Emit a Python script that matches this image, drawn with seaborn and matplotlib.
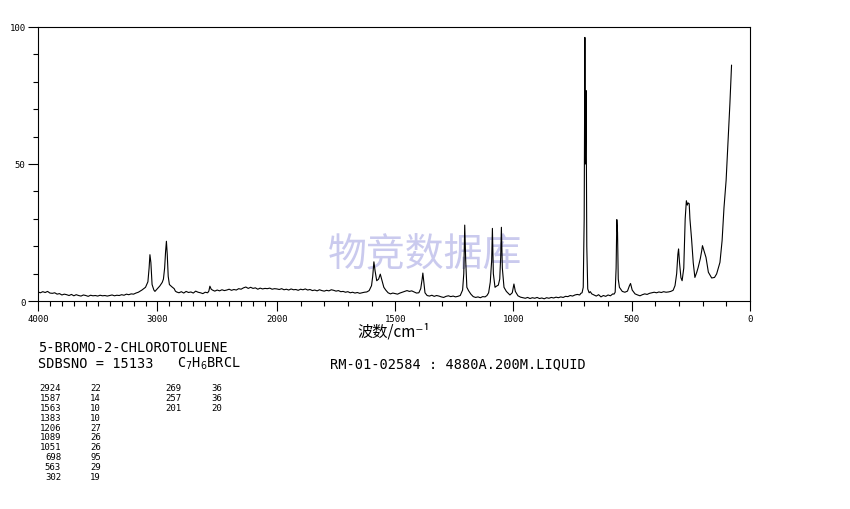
import numpy as np
import pandas as pd
import matplotlib
matplotlib.use("Agg")
import matplotlib.pyplot as plt
import seaborn as sns

# ---------------- data ----------------
wavenumber = [
    4000, 3980, 3960, 3940, 3920, 3900, 3880, 3860, 3840, 3820, 3800, 3780,
    3760, 3740, 3720, 3700, 3680, 3660, 3640, 3620, 3600, 3580, 3560, 3540,
    3520, 3500, 3480, 3460, 3440, 3420, 3400, 3380, 3360, 3340, 3320, 3300,
    3280, 3260, 3240, 3220, 3200, 3180, 3160, 3130, 3100,
    3080, 3070, 3063, 3055, 3045, 3030, 3021, 3000, 2980, 2960, 2950, 2940,
    2932, 2925, 2918, 2910, 2900, 2880, 2860, 2850, 2840, 2820, 2800, 2780,
    2760, 2740, 2720, 2700, 2680, 2660, 2640, 2620, 2600, 2580, 2570, 2561,
    2550, 2540, 2520, 2500, 2480, 2460, 2440, 2420, 2400, 2380, 2360, 2340,
    2320, 2300, 2280, 2260, 2240, 2220, 2200, 2180, 2160, 2140, 2120, 2100,
    2080, 2060, 2040, 2020, 2000,
    1990, 1980, 1970, 1960, 1950, 1940, 1930, 1920, 1910, 1900, 1890, 1880,
    1870, 1860, 1850, 1840, 1830, 1820, 1810, 1800, 1790, 1780, 1770, 1760,
    1750, 1740, 1730, 1720, 1710, 1700, 1690, 1680, 1670, 1660, 1650, 1640,
    1630, 1620, 1610, 1600,
    1595, 1590, 1585, 1578, 1570, 1563, 1556, 1548, 1540, 1530, 1520, 1510,
    1500, 1490, 1480, 1470, 1460, 1450, 1440, 1430, 1420, 1410, 1400, 1392,
    1386, 1383, 1379, 1374, 1365, 1355, 1345, 1335, 1325, 1315, 1305, 1295,
    1285, 1275, 1265, 1255, 1245, 1235, 1225, 1215, 1210, 1206, 1202, 1197,
    1190, 1180, 1170, 1160, 1150, 1140, 1130, 1120, 1112, 1105, 1098, 1092,
    1089, 1085, 1078, 1072, 1064, 1058, 1054, 1051, 1047, 1040, 1030, 1015,
    1005, 998, 992, 981, 970, 960, 950, 940, 930, 920, 910, 900,
    890, 880, 870, 860, 850, 840, 830, 820, 810, 800, 790, 780,
    770, 760, 750, 740, 730, 720, 715, 710, 705, 701, 698, 696,
    693, 690, 686, 680, 675, 669, 660, 650, 640, 630, 620, 610,
    600, 590, 580, 575, 570, 566, 563, 560, 557, 552, 540, 529,
    518, 510, 505, 498, 486, 475, 465, 455, 445, 435, 425, 415,
    405, 395, 385, 375, 365, 355, 345, 335, 325, 317, 310, 305,
    302, 298, 292, 287, 280, 274, 269, 265, 262, 257, 254, 247,
    240, 233, 225, 219, 210, 204, 201, 195, 186, 176, 162, 150,
    141, 127, 118, 110, 101, 93, 85, 78,
]
intensity = [
    3.3, 3.0, 3.4, 3.1, 3.5, 2.9, 2.8, 3.0, 2.5, 2.7, 2.2, 2.5,
    2.3, 2.0, 2.4, 1.9, 2.3, 2.0, 1.8, 2.2, 2.0, 1.7, 2.1, 1.9,
    2.0, 1.8, 2.1, 1.9, 2.0, 1.8, 2.0, 2.2, 1.9, 2.1, 2.0, 2.3,
    2.1, 2.5, 2.3, 2.6, 2.5, 2.9, 3.2, 4.0, 5.0,
    7.0, 12.0, 16.9, 14.0, 6.0, 4.0, 3.5, 4.5, 5.5, 6.8, 8.0, 12.0,
    18.0, 21.8, 17.0, 9.0, 6.0, 5.2, 4.5, 3.6, 3.3, 3.0, 3.4, 2.9,
    3.5, 3.1, 3.3, 2.9, 3.6, 3.2, 3.0, 2.7, 3.2, 3.0, 3.6, 5.4,
    4.3, 4.0, 3.6, 4.0, 3.7, 4.1, 3.8, 4.0, 4.3, 3.9, 4.2, 4.0,
    4.5, 4.3, 4.8, 5.1, 4.6, 5.0, 4.6, 4.8, 4.3, 4.7, 4.4, 4.6,
    4.5, 4.7, 4.3, 4.5, 4.4,
    4.2, 4.5, 4.1, 4.3, 4.0, 4.4, 4.1, 4.2, 3.9, 4.3, 4.1, 4.4,
    4.0, 4.2, 3.8, 4.0, 3.7, 4.1, 3.8, 3.6, 3.9, 3.7, 4.1, 3.9,
    3.6, 3.8, 3.4, 3.5, 3.2, 3.4, 3.0, 3.2, 2.9, 3.1, 2.8, 3.0,
    3.2, 3.3, 3.8, 5.6,
    9.0, 14.3, 11.0, 7.4, 8.0, 9.8, 7.5, 5.0, 4.0, 3.0, 2.6, 2.9,
    2.7, 2.5, 2.9, 3.2, 3.5, 3.8, 3.5, 3.7, 3.3, 2.9, 3.0, 4.5,
    8.0, 10.2, 7.0, 3.0, 2.0, 1.8, 2.1, 1.7, 2.0, 1.8, 1.5, 1.3,
    1.7, 1.9, 1.6, 1.8, 1.5, 1.7, 2.0, 4.0, 10.0, 27.7, 15.0, 5.0,
    3.8, 2.5, 1.6, 1.3, 1.5, 1.2, 1.6, 1.5, 2.0, 3.0, 6.9, 15.0,
    26.5, 10.0, 5.0, 5.4, 5.8, 8.0, 16.0, 26.9, 12.0, 5.0, 3.5, 2.2,
    3.0, 6.2, 3.5, 1.9, 1.4, 1.2, 1.0, 1.3, 0.9, 1.2, 1.0, 1.3,
    0.9, 1.1, 0.8, 1.2, 1.0, 1.3, 1.1, 1.4, 1.2, 1.5, 1.3, 1.7,
    1.6, 2.0, 1.8, 2.2, 2.4, 2.2, 2.8, 3.0, 5.0, 30.0, 96.2, 50.0,
    76.8, 20.0, 4.4, 3.0, 3.4, 2.6, 2.2, 1.8, 2.3, 1.5, 2.0, 1.7,
    2.2, 1.9, 2.6, 2.5, 3.2, 12.0, 29.7, 25.0, 8.0, 5.0, 3.5, 3.2,
    3.6, 5.5, 6.4, 4.0, 2.6, 2.2, 1.9, 2.3, 2.6, 2.4, 2.8, 3.0,
    3.2, 3.0, 3.3, 3.1, 3.4, 3.2, 3.3, 3.5, 3.9, 5.6, 10.0, 17.0,
    19.0, 14.0, 8.5, 7.4, 12.0, 30.0, 36.6, 35.0, 35.8, 35.5, 30.0, 22.6,
    14.0, 8.6, 10.5, 12.3, 15.5, 18.4, 20.2, 18.5, 15.9, 10.5, 8.4, 8.6,
    9.9, 14.1, 22.0, 34.0, 44.0, 58.0, 72.0, 86.1,
]

x_ticks = [4000, 3000, 2000, 1500, 1000, 500, 0]
x_tick_labels = ["4000", "3000", "2000", "1500", "1000", "500", "0"]
y_ticks = [0, 50, 100]
y_tick_labels = ["0", "50", "100"]

compound = "5-BROMO-2-CHLOROTOLUENE"
sdbs_no = "SDBSNO = 15133"
formula = r"C$_7$H$_6$BRCL"
run_info = "RM-01-02584 : 4880A.200M.LIQUID"
watermark = "物竞数据库"
x_label = "波数/cm⁻¹"

peak_wn_1 = ["2924", "1587", "1563", "1383", "1206", "1089", "1051", "698", "563", "302"]
peak_int_1 = ["22", "14", "10", "10", "27", "26", "26", "95", "29", "19"]
peak_wn_2 = ["269", "257", "201"]
peak_int_2 = ["36", "36", "20"]

# ---------------- plot ----------------
sns.set_theme(style="ticks")
plt.rcParams["font.family"] = ["DejaVu Sans", "Noto Sans CJK SC"]
for k in ["text.color", "axes.labelcolor", "xtick.color", "ytick.color",
          "axes.edgecolor"]:
    plt.rcParams[k] = "black"

W, H = 850, 510
fig = plt.figure(figsize=(W / 100, H / 100), dpi=100)
fig.patch.set_facecolor("white")
L, R, T, B = 38, 750, 28, 302
ax = fig.add_axes([L / W, 1 - B / H, (R - L) / W, (B - T) / H])
ax.set_facecolor("white")

df = pd.DataFrame({"wn": wavenumber, "I": intensity})

K = 0.505  # upper range (4000-2000) is drawn at about half the scale


def fwd(v):
    v = np.asarray(v, dtype=float)
    return np.where(v <= 2000, v, 2000 + (v - 2000) * K)


def inv(u):
    u = np.asarray(u, dtype=float)
    return np.where(u <= 2000, u, 2000 + (u - 2000) / K)


ax.set_xscale("function", functions=(fwd, inv))
sns.lineplot(data=df, x="wn", y="I", sort=False, estimator=None,
             color="black", linewidth=0.8, ax=ax, zorder=3)
ax.set_xlim(4000, 0)
ax.set_ylim(0, 100)

for s in ax.spines.values():
    s.set_visible(True)
    s.set_color("black")
    s.set_linewidth(0.8)

ax.set_xticks(x_ticks)
ax.set_xticklabels(x_tick_labels)
minor_x = [v for v in range(0, 4001, 100) if v not in x_ticks]
ax.set_xticks(minor_x, minor=True)
ax.set_yticks(y_ticks)
ax.set_yticklabels(y_tick_labels)
ax.set_yticks([v for v in range(0, 101, 10) if v not in y_ticks], minor=True)

ax.tick_params(axis="both", which="major", direction="out", length=7, width=0.8,
               color="black", labelsize=6.5, labelcolor="black", pad=2,
               labelfontfamily="DejaVu Sans Mono")
ax.tick_params(axis="both", which="minor", direction="out", length=3.5, width=0.8,
               color="black")
ax.tick_params(axis="x", which="both", top=False, bottom=True)
ax.tick_params(axis="y", which="both", right=False, left=True)
ax.grid(False)
ax.set_ylabel("")
ax.set_xlabel(x_label, fontsize=11, family=["Noto Sans CJK SC", "DejaVu Sans"],
              labelpad=0, color="black")

ax.text(425 / W, 1 - 255 / H, watermark, transform=fig.transFigure,
        fontsize=28, color="#cacaee", ha="center", va="center",
        family=["Noto Sans CJK SC"], zorder=1)

mono = "DejaVu Sans Mono"
fig.text(38 / W, 1 - 348 / H, compound, fontsize=9.8, family=mono, va="center",
         ha="left", color="black")
fig.text(38 / W, 1 - 364 / H, sdbs_no, fontsize=9.8, family=mono, va="center",
         ha="left", color="black")
fig.text(177 / W, 1 - 364 / H, formula, fontsize=9.8, family=mono, va="center",
         ha="left", color="black")
fig.text(330 / W, 1 - 364 / H, run_info, fontsize=9.8, family=mono, va="center",
         ha="left", color="black")

y0, dy = 389, 9.8
for i, (w, v) in enumerate(zip(peak_wn_1, peak_int_1)):
    yy = 1 - (y0 + i * dy) / H
    fig.text(61 / W, yy, w, fontsize=6.5, family=mono, ha="right", va="center", color="black")
    fig.text(101 / W, yy, v, fontsize=6.5, family=mono, ha="right", va="center", color="black")
for i, (w, v) in enumerate(zip(peak_wn_2, peak_int_2)):
    yy = 1 - (y0 + i * dy) / H
    fig.text(181 / W, yy, w, fontsize=6.5, family=mono, ha="right", va="center", color="black")
    fig.text(222 / W, yy, v, fontsize=6.5, family=mono, ha="right", va="center", color="black")

fig.savefig("out.png", dpi=100, facecolor="white")
